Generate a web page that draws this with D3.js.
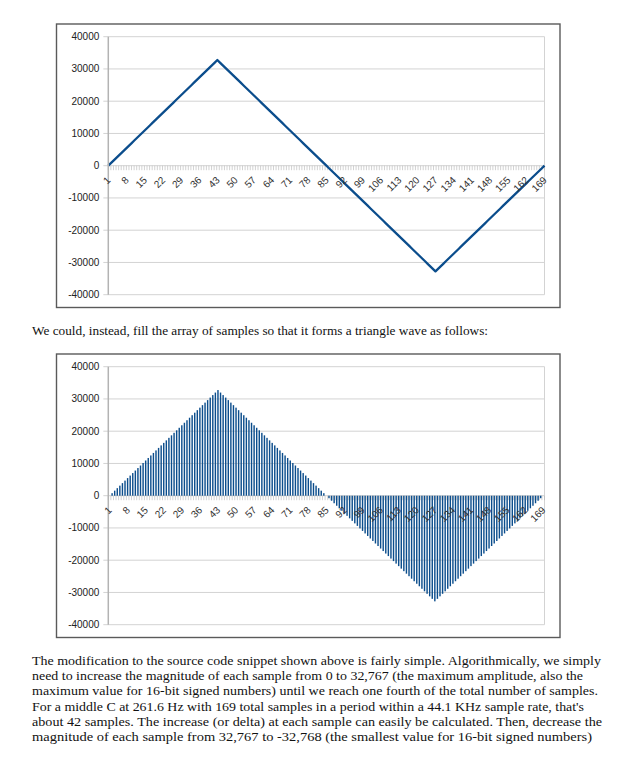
<!DOCTYPE html>
<html>
<head>
<meta charset="utf-8">
<script src="https://cdn.jsdelivr.net/npm/d3@7"></script>
<style>
  body { margin: 0; background: #fff; }
  .axis-label { font-family: "Liberation Sans", Arial, sans-serif; font-size: 10px; fill: #222; }
  .cat-label { font-family: "Liberation Sans", Arial, sans-serif; font-size: 10px; fill: #333; }
  .doc-text { font-family: "Liberation Serif", "Times New Roman", serif; font-size: 13px; fill: #111; }
</style>
</head>
<body>
<svg id="page" width="620" height="771"></svg>
<script>
"use strict";

// 169 samples of one period (peak at 43, trough at 127)
const samples = [
    0, 780, 1560, 2340, 3120, 3900, 4680, 5460, 6240, 7020,
    7800, 8580, 9360, 10140, 10920, 11700, 12480, 13260, 14040, 14820,
    15600, 16380, 17160, 17940, 18720, 19500, 20280, 21060, 21840, 22620,
    23400, 24180, 24960, 25740, 26520, 27300, 28080, 28860, 29640, 30420,
    31200, 31980, 32760, 31980, 31200, 30420, 29640, 28860, 28080, 27300,
    26520, 25740, 24960, 24180, 23400, 22620, 21840, 21060, 20280, 19500,
    18720, 17940, 17160, 16380, 15600, 14820, 14040, 13260, 12480, 11700,
    10920, 10140, 9360, 8580, 7800, 7020, 6240, 5460, 4680, 3900,
    3120, 2340, 1560, 780, 0, -780, -1560, -2340, -3120, -3900,
    -4680, -5460, -6240, -7020, -7800, -8580, -9360, -10140, -10920, -11700,
    -12480, -13260, -14040, -14820, -15600, -16380, -17160, -17940, -18720, -19500,
    -20280, -21060, -21840, -22620, -23400, -24180, -24960, -25740, -26520, -27300,
    -28080, -28860, -29640, -30420, -31200, -31980, -32760, -31980, -31200, -30420,
    -29640, -28860, -28080, -27300, -26520, -25740, -24960, -24180, -23400, -22620,
    -21840, -21060, -20280, -19500, -18720, -17940, -17160, -16380, -15600, -14820,
    -14040, -13260, -12480, -11700, -10920, -10140, -9360, -8580, -7800, -7020,
    -6240, -5460, -4680, -3900, -3120, -2340, -1560, -780, 0
];

const sampleNumbers = samples.map((v, i) => i + 1);

const categoryLabels = [1, 8, 15, 22, 29, 36, 43, 50, 57, 64, 71, 78, 85, 92,
    99, 106, 113, 120, 127, 134, 141, 148, 155, 162, 169];

const yTicks = [40000, 30000, 20000, 10000, 0, -10000, -20000, -30000, -40000];

const introLine = "We could, instead, fill the array of samples so that it forms a triangle wave as follows:";

const paragraphLines = [
    "The modification to the source code snippet shown above is fairly simple.  Algorithmically, we simply",
    "need to increase the magnitude of each sample from 0 to 32,767 (the maximum amplitude, also the",
    "maximum value for 16-bit signed numbers) until we reach one fourth of the total number of samples.",
    "For a middle C at 261.6 Hz with 169 total samples in a period within a 44.1 KHz sample rate, that's",
    "about 42 samples.  The increase (or delta) at each sample can easily be calculated.  Then, decrease the",
    "magnitude of each sample from 32,767 to -32,768 (the smallest value for 16-bit signed numbers)"
];
// right end of each paragraph line on the page
const paragraphEnds = [601, 583, 598, 584, 602, 592];

const SERIES_COLOR = "#0b4d8c";
const GRID_COLOR = "#d3d3d3";
const AXIS_COLOR = "#b3b3b3";

const svg = d3.select("#page");
svg.append("rect").attr("width", 620).attr("height", 771).attr("fill", "#fff");

/**
 * Draws one chart frame with y grid, axis, category comb and labels,
 * then either a line or a column series.
 */
const drawChart = (top, kind) => {
    const box = { left: 56.5, right: 560, top: top, bottom: top + 283.5 };
    const plot = { left: 108.3, right: 544.5, top: top + 12.7, bottom: top + 270.7 };

    const g = svg.append("g");

    g.append("rect")
        .attr("x", box.left)
        .attr("y", box.top)
        .attr("width", box.right - box.left)
        .attr("height", box.bottom - box.top)
        .attr("fill", "#fff")
        .attr("stroke", "#5a5a5a")
        .attr("stroke-width", 1.4);

    const y = d3.scaleLinear()
        .domain([-40000, 40000])
        .range([plot.bottom, plot.top]);

    // horizontal grid + outer tick stubs
    g.append("g")
        .selectAll("line")
        .data(yTicks)
        .join("line")
        .attr("x1", plot.left - 5)
        .attr("x2", plot.right)
        .attr("y1", (d) => y(d))
        .attr("y2", (d) => y(d))
        .attr("stroke", GRID_COLOR)
        .attr("stroke-width", 1);

    // right frame of the plot area
    g.append("line")
        .attr("x1", plot.right).attr("x2", plot.right)
        .attr("y1", plot.top).attr("y2", plot.bottom)
        .attr("stroke", GRID_COLOR)
        .attr("stroke-width", 1);

    g.append("g")
        .selectAll("text")
        .data(yTicks)
        .join("text")
        .attr("class", "axis-label")
        .attr("x", plot.left - 9)
        .attr("y", (d) => y(d))
        .attr("dy", "0.35em")
        .attr("text-anchor", "end")
        .text((d) => d);

    const y0 = y(0);

    // category comb along the zero line
    const step = (plot.right - plot.left) / samples.length;
    g.append("g")
        .selectAll("line")
        .data(d3.range(samples.length + 1))
        .join("line")
        .attr("x1", (d) => plot.left + d * step)
        .attr("x2", (d) => plot.left + d * step)
        .attr("y1", y0)
        .attr("y2", y0 + 4.5)
        .attr("stroke", AXIS_COLOR)
        .attr("stroke-width", 0.6);

    let xPos;
    const series = g.append("g");

    if (kind === "line") {
        const x = d3.scalePoint()
            .domain(sampleNumbers)
            .range([plot.left, plot.right]);
        xPos = (n) => x(n);
        series.append("path")
            .datum(samples)
            .attr("fill", "none")
            .attr("stroke", SERIES_COLOR)
            .attr("stroke-width", 2.3)
            .attr("stroke-linejoin", "round")
            .attr("d", d3.line()
                .x((d, i) => x(sampleNumbers[i]))
                .y((d) => y(d)));
    } else {
        const x = d3.scaleBand()
            .domain(sampleNumbers)
            .range([plot.left, plot.right])
            .paddingInner(0.45)
            .paddingOuter(0.2);
        xPos = (n) => x(n) + x.bandwidth() / 2;
        series.selectAll("rect")
            .data(samples)
            .join("rect")
            .attr("x", (d, i) => x(sampleNumbers[i]))
            .attr("width", x.bandwidth())
            .attr("y", (d) => Math.min(y(d), y0))
            .attr("height", (d) => Math.abs(y(d) - y0))
            .attr("fill", SERIES_COLOR);
    }

    // y axis line
    g.append("line")
        .attr("x1", plot.left).attr("x2", plot.left)
        .attr("y1", plot.top).attr("y2", plot.bottom)
        .attr("stroke", AXIS_COLOR)
        .attr("stroke-width", 1.5);

    g.append("g")
        .selectAll("text")
        .data(categoryLabels)
        .join("text")
        .attr("class", "cat-label")
        .attr("text-anchor", "end")
        .attr("transform", (d) =>
            `translate(${xPos(d) + 3},${y0 + 15}) rotate(-45)`)
        .text((d) => d);
};

drawChart(24, "line");
drawChart(354, "bar");

const fitText = (sel, x, end) => {
    sel.attr("x", x)
        .attr("textLength", end - x)
        .attr("lengthAdjust", "spacingAndGlyphs");
};

svg.append("text")
    .attr("class", "doc-text")
    .attr("y", 335)
    .text(introLine)
    .call(fitText, 32, 488);

svg.append("g")
    .selectAll("text")
    .data(paragraphLines)
    .join("text")
    .attr("class", "doc-text")
    .attr("y", (d, i) => 665 + i * 15.2)
    .text((d) => d)
    .each(function(d, i) {
        d3.select(this).call(fitText, 32, paragraphEnds[i]);
    });
</script>
</body>
</html>
